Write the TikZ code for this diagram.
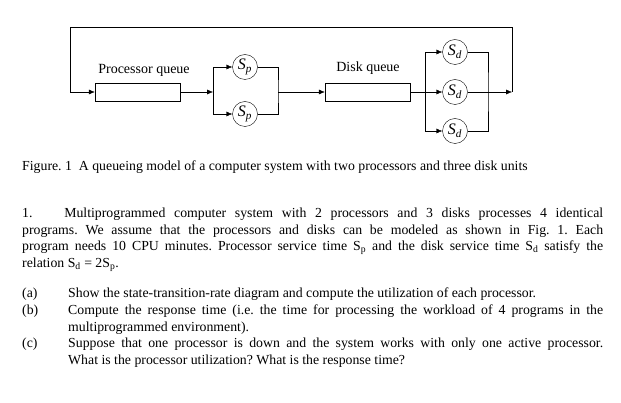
\documentclass[tikz,border=0pt]{standalone}
\usepackage{fontspec}
\setmainfont{Liberation Serif}
\usetikzlibrary{arrows.meta}
\newcommand{\srvlab}[1]{\textit{S}\textsubscript{\textit{#1}}}
\begin{document}
\frenchspacing
\begin{tikzpicture}[x=1pt,y=-1pt,
  q/.style={draw,minimum width=85pt,minimum height=18pt,inner sep=0pt},
  srv/.style={draw,circle,minimum size=25pt,inner sep=0pt,font=\fontsize{16}{16}\selectfont},
  lbl/.style={font=\fontsize{14}{16}\selectfont,inner sep=0pt},
  ar/.style={-{Latex[length=6pt,width=5pt]}},
  txt/.style={font=\fontsize{13.8}{16.5}\selectfont,inner sep=0pt,anchor=north west,align=justify}]
\useasboundingbox (0,0) rectangle (621,403);
\node[q] (pq) at (137.5,92) {};
\node[lbl] (pql) at (144,70) {Processor queue};
\node[srv] (sp1) at (245,67) {\srvlab{p}};
\node[srv] (sp2) at (245,114) {\srvlab{p}};
\node[q] (dq) at (367.5,92) {};
\node[lbl] (dql) at (368,68) {Disk queue};
\node[srv] (sd1) at (455,52) {\srvlab{d}};
\node[srv] (sd2) at (455,92) {\srvlab{d}};
\node[srv] (sd3) at (455,131) {\srvlab{d}};
\coordinate (b1) at (213,92);
\coordinate (m1) at (278,92);
\coordinate (b2) at (425,92);
\coordinate (m2) at (488,92);
\coordinate (out) at (512,92);
\coordinate (tr) at (512,27);
\coordinate (tl) at (70,27);
\coordinate (in) at (70,92);
\draw[ar] (pq.east) -- (b1);
\draw[ar] (b1) |- (sp1.west);
\draw[ar] (b1) |- (sp2.west);
\draw (sp1.east) -| (m1) |- (sp2.east);
\draw[ar] (m1) -- (dq.west);
\draw (dq.east) -- (b2);
\draw[ar] (b2) |- (sd1.west);
\draw[ar] (b2) -- (sd2.west);
\draw[ar] (b2) |- (sd3.west);
\draw (sd1.east) -| (m2) |- (sd3.east);
\draw[ar] (sd2.east) -- (out);
\draw (out) -- (tr) -- (tl) -- (in);
\draw[ar] (in) -- (pq.west);
\node[txt] (cap) at (22,161) {Figure. 1\ \ A queueing model of a computer system with two processors and three disk units};
\node[txt,text width=581pt] (p1) at (22,208) {1.\hspace{2.3em}Multiprogrammed computer system with 2 processors and 3 disks processes 4 identical\linebreak programs. We assume that the processors and disks can be modeled as shown in Fig. 1. Each\linebreak program needs 10 CPU minutes. Processor service time S\textsubscript{p} and the disk service time S\textsubscript{d} satisfy the\linebreak relation S\textsubscript{d} = 2S\textsubscript{p}.};
\node[txt] (la) at (22,288) {(a)};
\node[txt] (lb) at (22,305) {(b)};
\node[txt] (lc) at (22,338) {(c)};
\node[txt,text width=535pt] (ta) at (68,288) {Show the state-transition-rate diagram and compute the utilization of each processor.};
\node[txt,text width=535pt] (tb) at (68,305) {Compute the response time (i.e. the time for processing the workload of 4 programs in the\linebreak multiprogrammed environment).};
\node[txt,text width=535pt] (tc) at (68,338) {Suppose that one processor is down and the system works with only one active processor.\linebreak What is the processor utilization? What is the response time?};
\end{tikzpicture}
\end{document}
